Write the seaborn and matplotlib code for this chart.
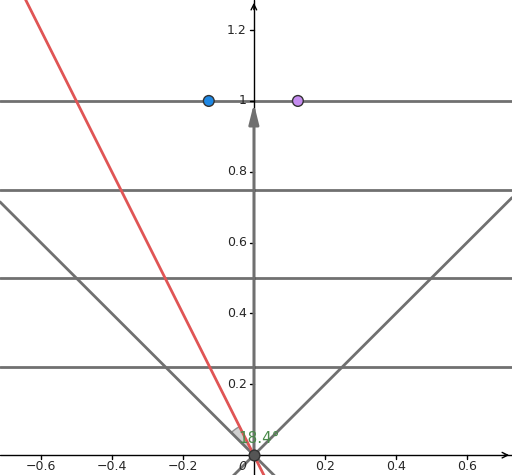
import matplotlib
matplotlib.use("Agg")
import matplotlib.pyplot as plt
import seaborn as sns
import numpy as np
from matplotlib.patches import Wedge

sns.set_style("white")
plt.rcParams['font.family'] = ['DejaVu Sans']

h_levels = [0.25, 0.5, 0.75, 1.0]
diag_slopes = [1, -1]
red_slope = -2
points_x = [-0.127, 0.124]
points_y = [1.0, 1.0]
points_c = ["#1e88e5", "#c58cf0"]
xticks = [-0.6, -0.4, -0.2, 0.2, 0.4, 0.6]
yticks = [0.2, 0.4, 0.6, 0.8, 1.0, 1.2]

fig = plt.figure(figsize=(5.12, 4.75), dpi=100)
ax = fig.add_axes([0, 0, 1, 1])
xmin, xmax, ymin, ymax = -0.715, 0.727, -0.056, 1.285
ax.set_xlim(xmin, xmax); ax.set_ylim(ymin, ymax)
xs = np.array([xmin, xmax])
gray = "#707070"
ax.add_patch(Wedge((0, 0), 0.09, 116.57, 135, facecolor="#d0d0d0", edgecolor="#909090", lw=1, zorder=1))
for h in h_levels:
    sns.lineplot(x=xs, y=[h, h], ax=ax, color=gray, lw=2)
for s in diag_slopes:
    sns.lineplot(x=xs, y=s * xs, ax=ax, color=gray, lw=2)
sns.lineplot(x=xs, y=red_slope * xs, ax=ax, color="#e05555", lw=2)
ax.annotate("", xy=(0, 1), xytext=(0, 0),
            arrowprops=dict(arrowstyle="-|>,head_width=0.3,head_length=1.2", color=gray, lw=2))
ax.axhline(0, color="black", lw=1); ax.axvline(0, color="black", lw=1)
ax.annotate("", xy=(0, ymax), xytext=(0, 1.25), arrowprops=dict(arrowstyle="->", color="black", lw=1))
ax.annotate("", xy=(xmax, 0), xytext=(xmax - 0.03, 0), arrowprops=dict(arrowstyle="->", color="black", lw=1))
sns.scatterplot(x=points_x, y=points_y, ax=ax, hue=points_c, palette={c: c for c in points_c},
                s=60, edgecolor="#333333", linewidth=1, legend=False, zorder=5)
ax.scatter([0], [0], s=60, color="#555555", edgecolor="#333333", zorder=6)
ax.text(-0.045, 0.035, "18.4°", color="#4a8a4a", fontsize=11)
for t in xticks:
    ax.plot([t, t], [0, -0.012], color="black", lw=1)
    ax.text(t, -0.015, f"{t:g}".replace("-", "−"), ha="center", va="top", fontsize=9)
for t in yticks:
    ax.plot([0, -0.012], [t, t], color="black", lw=1)
    ax.text(-0.02, t, f"{t:g}", ha="right", va="center", fontsize=9)
ax.text(-0.02, -0.015, "0", ha="right", va="top", fontsize=9, style="italic")
ax.axis("off")
fig.savefig("out.png", dpi=100)
